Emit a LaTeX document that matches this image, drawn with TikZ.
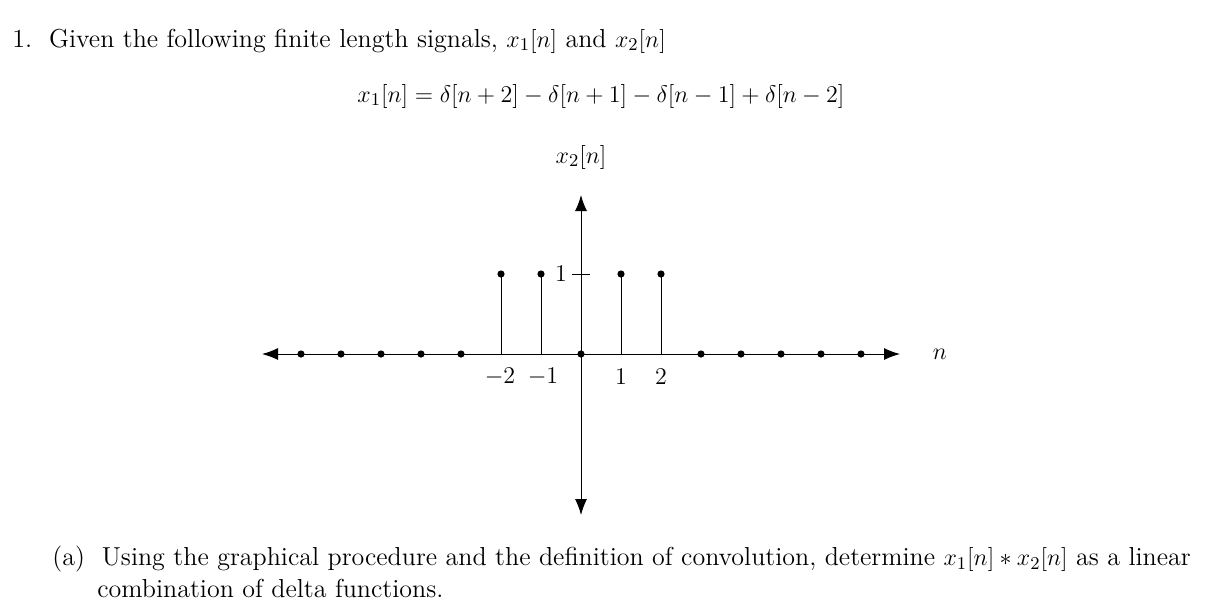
\documentclass[tikz,border=0pt]{standalone}
\usetikzlibrary{arrows.meta}
\begin{document}
\begin{tikzpicture}[x=0.5pt,y=-0.5pt,font=\fontsize{13}{15}\selectfont,
  dot/.style={circle,fill,inner sep=0pt,minimum size=3.6pt},
  axis/.style={-{Latex[length=8pt,width=6pt]},line width=0.5pt},
  lbl/.style={inner sep=1pt}]
\useasboundingbox (0,0) rectangle (1212,612);
\node[anchor=west,lbl] (t1) at (10,41) {1.\ \ Given the following finite length signals, $x_1[n]$ and $x_2[n]$};
\node[lbl] (eq) at (601,96) {$x_1[n]=\delta[n+2]-\delta[n+1]-\delta[n-1]+\delta[n-2]$};
\node[lbl] (yl) at (581,157) {$x_2[n]$};
\coordinate (o) at (581,354);
\coordinate (L) at (262,354); \coordinate (R) at (900,354);
\coordinate (T) at (581,195); \coordinate (B) at (581,515);
\draw[axis] (o) -- (L); \draw[axis] (o) -- (R);
\draw[axis] (o) -- (T); \draw[axis] (o) -- (B);
\node[lbl] (nl) at (940,354) {$n$};
\foreach \k in {-7,...,-3,0,3,4,5,6,7} \node[dot] (d\k) at (581+40*\k,354) {};
\foreach \k in {-2,-1,1,2} {
  \coordinate (b\k) at (581+40*\k,354);
  \node[dot] (s\k) at (581+40*\k,274) {};
  \draw[line width=0.5pt] (b\k) -- (s\k.center);
}
\coordinate (tk1) at (572,274); \coordinate (tk2) at (590,274);
\draw[line width=0.5pt] (tk1) -- (tk2);
\node[lbl] (one) at (561,274) {$1$};
\node[lbl] (m2) at (500,377) {$-2$};
\node[lbl] (m1) at (543,377) {$-1$};
\node[lbl] (p1) at (621,377) {$1$};
\node[lbl] (p2) at (661,377) {$2$};
\node[anchor=west,lbl] (a1) at (50,559) {(a)\ \ Using the graphical procedure and the definition of convolution, determine $x_1[n]*x_2[n]$ as a linear};
\node[anchor=west,lbl] (a2) at (95,588) {combination of delta functions.};
\end{tikzpicture}
\end{document}
